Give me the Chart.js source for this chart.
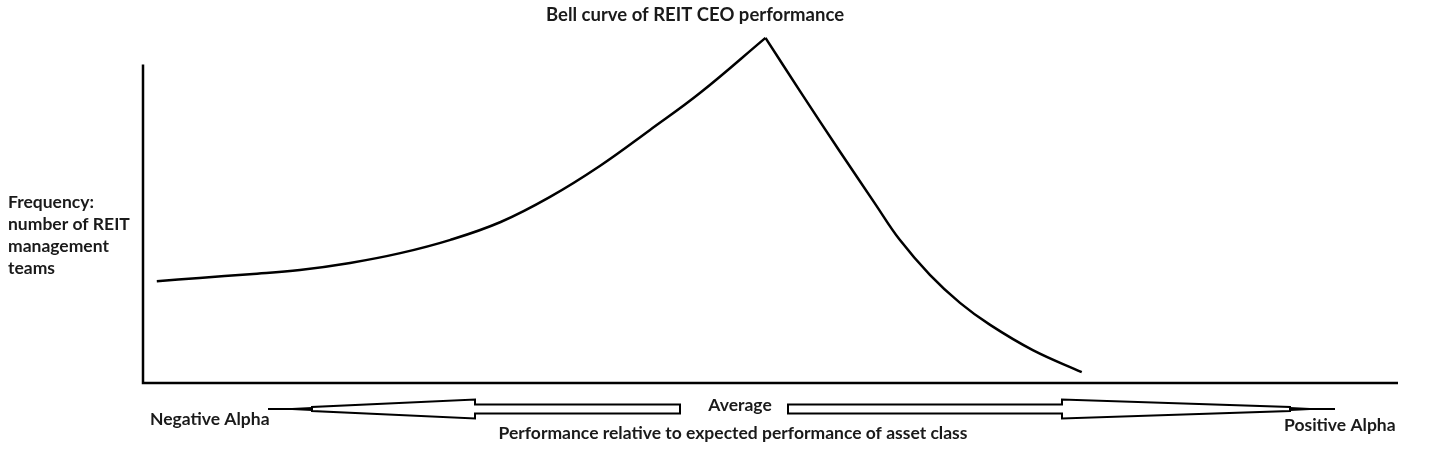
<!DOCTYPE html>
<html>
<head>
<meta charset="utf-8">
<title>Bell curve of REIT CEO performance</title>
<script src="https://cdn.jsdelivr.net/npm/chart.js@4"></script>
<style>
  html, body { margin: 0; padding: 0; background: #fff; }
</style>
</head>
<body>
<canvas id="bellChart" width="1429" height="450"></canvas>
<script>
// Performance relative to asset class: 0 = far negative alpha, 100 = far positive alpha
// Frequency in relative units (number of REIT management teams)
const risingAlpha = [1.1, 4.5, 8.5, 12.5, 16.5, 20.5, 24.5, 28.5, 32.4, 36.4, 40.4, 44.4, 49.6];
const risingFreq = [29.1, 30.0, 31.1, 32.3, 34.3, 37.1, 40.9, 46.0, 53.1, 62.0, 72.3, 82.9, 98.6];
const fallingAlpha = [49.6, 52.35, 55.5, 58.3, 60.3, 62.7, 65.1, 67.5, 70.9, 74.8];
const fallingFreq = [98.6, 83.4, 66.3, 51.4, 40.9, 30.9, 22.9, 16.6, 9.4, 3.1];

const chartTitle = 'Bell curve of REIT CEO performance';
const yLabelLines = ['Frequency:', 'number of REIT', 'management', 'teams'];
const xAxisTitle = 'Performance relative to expected performance of asset class';
const xTickLabels = ['Negative Alpha', 'Average', 'Positive Alpha'];

const ink = '#000';
const textColor = '#1a1a1a';
const labelFont = 'bold 17.5px Lato, "DejaVu Sans", sans-serif';
const titleFont = 'bold 18.5px Lato, "DejaVu Sans", sans-serif';

function toPoints(xs, ys) {
  return xs.map((x, i) => ({ x: x, y: ys[i] }));
}

// one side of the two-headed "alpha" arrow, drawn in pixels
function drawArrow(ctx, shaftStart, headX, taperEnd, solidEnd, tipX, cy) {
  ctx.save();
  ctx.lineWidth = 2;
  ctx.strokeStyle = ink;
  ctx.fillStyle = '#fff';
  ctx.lineJoin = 'miter';
  ctx.beginPath();
  ctx.moveTo(shaftStart, cy - 4.5);
  ctx.lineTo(headX, cy - 4.5);
  ctx.lineTo(headX, cy - 9.5);
  ctx.lineTo(taperEnd, cy - 2);
  ctx.lineTo(taperEnd, cy + 2);
  ctx.lineTo(headX, cy + 9.5);
  ctx.lineTo(headX, cy + 4.5);
  ctx.lineTo(shaftStart, cy + 4.5);
  ctx.closePath();
  ctx.fill();
  ctx.stroke();
  // solid bit near the point
  ctx.fillStyle = ink;
  ctx.beginPath();
  ctx.moveTo(taperEnd, cy - 2);
  ctx.lineTo(solidEnd, cy - 1);
  ctx.lineTo(solidEnd, cy + 1);
  ctx.lineTo(taperEnd, cy + 2);
  ctx.closePath();
  ctx.fill();
  ctx.beginPath();
  ctx.moveTo(solidEnd, cy);
  ctx.lineTo(tipX, cy);
  ctx.stroke();
  ctx.restore();
}

const sketchPlugin = {
  id: 'sketch',
  beforeDatasetsDraw(chart) {
    const ctx = chart.ctx;
    const area = chart.chartArea;
    const yTop = chart.scales.y.getPixelForValue(91);
    ctx.save();
    ctx.strokeStyle = ink;
    ctx.lineWidth = 2.5;
    ctx.beginPath();
    ctx.moveTo(area.left, yTop);
    ctx.lineTo(area.left, area.bottom);
    ctx.lineTo(area.right, area.bottom);
    ctx.stroke();
    ctx.restore();
  },
  afterDraw(chart) {
    const ctx = chart.ctx;
    drawArrow(ctx, 680, 475, 312, 292, 268, 409);
    drawArrow(ctx, 788, 1062, 1290, 1310, 1335, 409);

    ctx.save();
    ctx.fillStyle = textColor;
    ctx.textBaseline = 'middle';

    ctx.textAlign = 'center';
    ctx.font = titleFont;
    ctx.fillText(chartTitle, 695, 15);
    ctx.font = labelFont;
    ctx.fillText(xTickLabels[1], 740, 405);
    ctx.fillText(xAxisTitle, 733, 433);

    ctx.textAlign = 'left';
    yLabelLines.forEach((line, i) => {
      ctx.fillText(line, 8, 202 + i * 22);
    });
    ctx.fillText(xTickLabels[0], 150, 419);
    ctx.fillText(xTickLabels[2], 1284, 425);
    ctx.restore();
  }
};

const ctx = document.getElementById('bellChart').getContext('2d');
new Chart(ctx, {
  type: 'line',
  data: {
    datasets: [
      {
        label: 'Rising side',
        data: toPoints(risingAlpha, risingFreq),
        borderColor: ink,
        borderWidth: 2.5,
        pointRadius: 0,
        tension: 0.4,
        fill: false
      },
      {
        label: 'Falling side',
        data: toPoints(fallingAlpha, fallingFreq),
        borderColor: ink,
        borderWidth: 2.5,
        pointRadius: 0,
        tension: 0.4,
        fill: false
      }
    ]
  },
  options: {
    responsive: false,
    animation: false,
    events: [],
    layout: {
      padding: { left: 143, right: 31, top: 33, bottom: 67 }
    },
    plugins: {
      legend: { display: false },
      title: { display: false },
      tooltip: { enabled: false }
    },
    scales: {
      x: { type: 'linear', min: 0, max: 100, display: false },
      y: { min: 0, max: 100, display: false }
    }
  },
  plugins: [sketchPlugin]
});
</script>
</body>
</html>
